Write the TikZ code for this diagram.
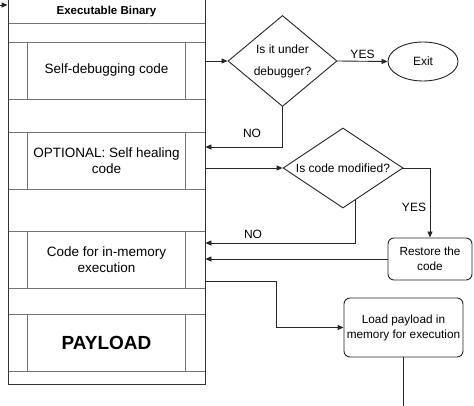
\documentclass[tikz,border=0pt]{standalone}
\usepackage{fontspec}
\setmainfont{Liberation Sans}
\usetikzlibrary{shapes.geometric,arrows.meta,calc}
\begin{document}
\begin{tikzpicture}[x=1pt,y=-1pt,
  line width=0.9pt,
  arr/.style={-{Triangle[length=6pt,width=5pt]}, draw=black!85},
  conn/.style={draw=black!85},
  blk/.style={draw=black!55, minimum width=197pt, minimum height=57pt, inner sep=0pt, align=center, font=\fontsize{13.5}{16}\selectfont},
  sep/.style={draw=black!55},
  dec/.style={draw=black!85, shape=diamond, inner sep=0pt, align=center, font=\fontsize{12}{22}\selectfont},
  rbox/.style={draw=black!85, rounded corners=6pt, inner sep=0pt, align=center, font=\fontsize{11.8}{15}\selectfont},
  lbl/.style={font=\fontsize{12}{14}\selectfont, inner sep=1pt}
]
\useasboundingbox (0,0) rectangle (474,406);
\fill[white] (0,0) rectangle (474,406);

% binary blocks
\node[blk] (sd) at (106.5,70.5) {Self-debugging code};
\node[blk] (opt) at (106.5,161) {OPTIONAL: Self healing\\code};
\node[blk] (mem) at (106.5,259.5) {Code for in-memory\\execution};
\node[blk, font=\bfseries\fontsize{19}{22}\selectfont] (pay) at (106.5,343) {PAYLOAD};
\foreach \n in {sd,opt,mem,pay} {
  \draw[sep] ([xshift=20pt]\n.north west) -- ([xshift=20pt]\n.south west);
  \draw[sep] ([xshift=-20pt]\n.north east) -- ([xshift=-20pt]\n.south east);
}
\node[font=\bfseries\fontsize{11.5}{13}\selectfont] (hdr) at (106.5,12) {Executable Binary};
\draw[sep] (8,23) -- (205,23);
\node[draw=black!80, minimum width=197pt, minimum height=390pt, inner sep=0pt] (bin) at (106.5,189) {};

% decisions and terminals
\node[dec, aspect=1.2, minimum width=109pt, minimum height=91pt] (d1) at (282.5,61) {Is it under\\debugger?};
\node[dec, aspect=1.5, minimum width=120pt, minimum height=80pt] (d2) at (343,168) {Is code modified?};
\node[draw=black!85, ellipse, minimum width=70pt, minimum height=39pt, inner sep=0pt, font=\fontsize{12}{14}\selectfont] (exit) at (423,61.5) {Exit};
\node[rbox, minimum width=84pt, minimum height=42pt] (rest) at (430,259) {Restore the\\code};
\node[rbox, minimum width=119pt, minimum height=59pt] (load) at (403.5,327.5) {Load payload in\\memory for execution};

% labels
\node[lbl] (no1) at (252,133) {NO};
\node[lbl] (yes2) at (414,207) {YES};
\node[lbl] (no2) at (253,234) {NO};

% connectors
\draw[arr] (sd.east |- d1.west) -- (d1.west);
\draw[arr] (d1.east) -- node[lbl, above=1pt] (yes1) {YES} (exit.west);
\draw[arr] (d1.south) |- ([yshift=14pt]opt.east);
\draw[arr] (opt.east |- d2.west) -- (d2.west);
\draw[arr] (d2.east) -| (rest.north);
\draw[arr] ($(d2.south)!0.2!(d2.east)$) |- ([yshift=16.5pt]mem.east);
\draw[arr] (rest.west) -- (rest.west -| mem.east);
\draw[arr] ([yshift=-21.5pt]mem.east) -- ++(71,0) |- (load.west);
\coordinate (botend) at (load.south |- 0,410);
\draw[conn] (load.south) -- (botend);
\coordinate (inend) at (-3,5);
\draw[arr] (inend) -- (inend -| bin.west);
\end{tikzpicture}
\end{document}
